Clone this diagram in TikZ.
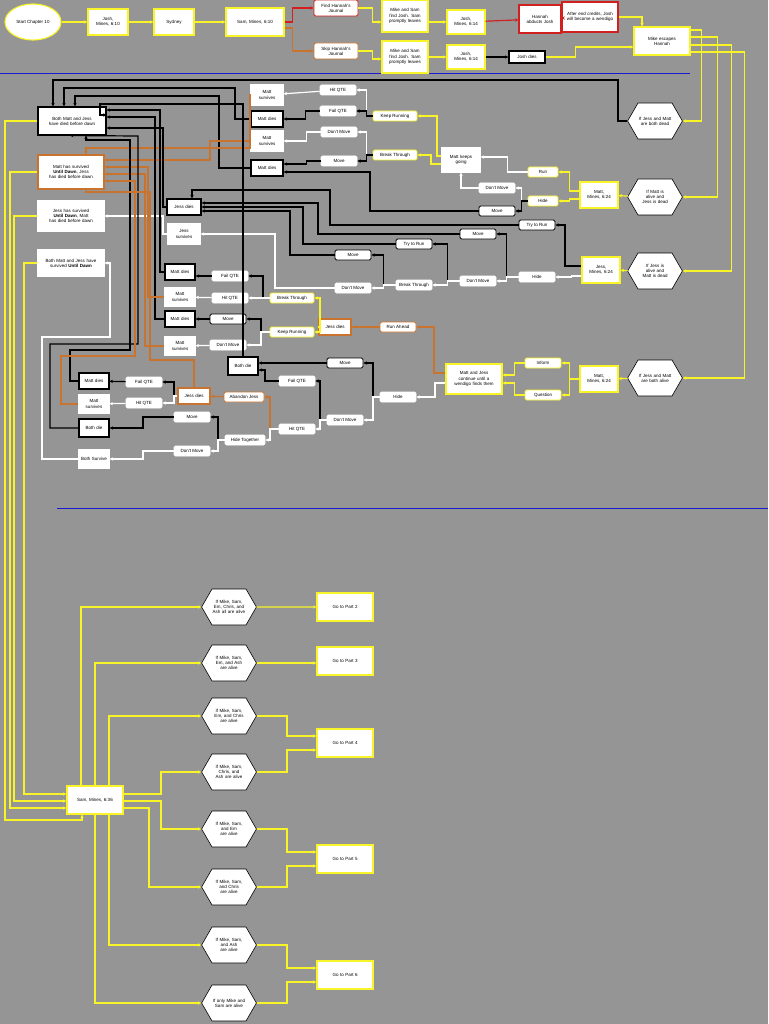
\documentclass[tikz,border=0pt]{standalone}
\usepackage{fontspec}
\setmainfont{Liberation Sans}
\usetikzlibrary{shapes.geometric,shapes.symbols,arrows.meta}
\definecolor{bg}{HTML}{959595}
\definecolor{yel}{HTML}{F8F428}
\definecolor{org}{HTML}{C8742E}
\definecolor{rd}{HTML}{D02020}
\definecolor{bl}{HTML}{1A1AD0}
\hyphenpenalty=10000
\exhyphenpenalty=10000
\begin{document}
\begin{tikzpicture}[x=1pt,y=-1pt,
 every node/.style={font=\fontsize{4.5}{5.2}\selectfont, align=center, inner sep=1pt},
 bx/.style={draw=#1, fill=white, line width=1.1pt, minimum width=40, minimum height=26, text width=34},
 bx/.default=black,
 lb/.style={draw=#1, fill=white, line width=0.8pt, rounded corners=1.5pt, minimum width=36, minimum height=10},
 lb/.default=white,
 hx/.style={signal, signal to=east and west, signal pointer angle=120, draw=black, fill=white, line width=0.6pt, minimum width=50, minimum height=36, text width=34, inner sep=0pt},
 c/.style={line width=1.2pt, draw=#1, -{Stealth[length=3.4pt,width=3.4pt]}},
 c/.default=black]
\fill[bg] (0,0) rectangle (768,1024);
\useasboundingbox (0,0) rectangle (768,1024);
\draw[bl, line width=1pt] (0,74) -- (690,74);
\draw[bl, line width=1pt] (57,508) -- (768,508);
% ---- top row
\node[ellipse, draw=yel, fill=white, line width=1.1pt, minimum width=56, minimum height=36] (start) at (33,22) {Start Chapter 10};
\node[bx=yel] (j610) at (108,22) {Josh, Mines, 6:10};
\node[bx=yel] (syd) at (174,22) {Sydney};
\node[bx=yel, minimum width=58, text width=50, minimum height=28] (s610) at (255,22) {Sam, Mines, 6:10};
\node[lb=rd, minimum width=44, minimum height=16, text width=40] (find) at (336,8) {Find Hannah's Journal};
\node[lb=org, minimum width=44, minimum height=16, text width=40] (skip) at (336,51) {Skip Hannah's Journal};
\node[bx=yel, minimum width=46, text width=42, minimum height=32] (ms1) at (405,16) {Mike and Sam find Josh. Sam promptly leaves};
\node[bx=yel, minimum width=46, text width=42, minimum height=32] (ms2) at (405,57) {Mike and Sam find Josh. Sam promptly leaves};
\node[bx=yel, minimum width=38, text width=34, minimum height=24] (j614a) at (466,22) {Josh, Mines, 6:14};
\node[bx=yel, minimum width=38, text width=34, minimum height=24] (j614b) at (466,57) {Josh, Mines, 6:14};
\node[bx=rd, minimum width=42, text width=36, minimum height=28] (hab) at (540,19) {Hannah abducts Josh};
\node[bx=rd, minimum width=56, text width=50, minimum height=30] (after) at (590,17) {After end credits, Josh will become a wendigo};
\node[bx, minimum width=34, minimum height=12] (jdies) at (527,57) {Josh dies};
\node[bx=yel, minimum width=56, text width=40, minimum height=28] (mike) at (662,41) {Mike escapes Hannah};
\draw[c=yel] (start) -- (j610);
\draw[c=yel] (j610) -- (syd);
\draw[c=yel] (syd) -- (s610);
\draw[c=rd] (s610.east) -- ++(8,0) |- (find.west);
\draw[c=org] ([yshift=-6]s610.east) -- ++(8,0) |- (skip.west);
\draw[c=yel] (find.east) -- ++(14,0) |- ([yshift=-6]ms1.west);
\draw[c=yel] (skip.east) -- ++(14,0) |- ([yshift=-2]ms2.west);
\draw[c=yel] (ms1.east|-j614a) -- (j614a);
\draw[c=yel] (ms2) -- (j614b);
\draw[c=rd] (j614a) -- (hab);
\draw[c=rd] (hab) -- (after);
\draw[c=black] (j614b) -- (jdies);
\draw[c=yel] (after.east) -| ([xshift=-20]mike.north);
\draw[c=yel] (jdies.east) -- ++(30,0) |- ([yshift=-6]mike.west);
% ---- hexagons right
\node[hx] (hA) at (655,121) {If Jess and Matt are both dead};
\node[hx] (hB) at (655,197) {If Matt is alive and Jess is dead};
\node[hx] (hC) at (655,271) {If Jess is alive and Matt is dead};
\node[hx] (hD) at (655,378) {If Jess and Matt are both alive};
\draw[c=yel] ([yshift=11]mike.east) -- ++(11,0) |- (hA.east);
\draw[c=yel] ([yshift=4]mike.east) -- ++(27,0) |- (hB.east);
\draw[c=yel] ([yshift=-4]mike.east) -- ++(41,0) |- (hC.east);
\draw[c=yel] ([yshift=-11]mike.east) -- ++(54,0) |- (hD.east);
% ---- outcomes left
\node[bx, minimum width=68, text width=64, minimum height=28] (oDD) at (72,121) {Both Matt and Jess have died before dawn};
\node[bx=org, minimum width=66, text width=62, minimum height=34] (oMS) at (71,172) {Matt has survived \textbf{Until Dawn}, Jess has died before dawn};
\node[bx=white, minimum width=66, text width=62, minimum height=30] (oJS) at (71,216) {Jess has survived \textbf{Until Dawn}, Matt has died before dawn};
\node[bx=white, minimum width=66, text width=62, minimum height=26] (oBS) at (71,263) {Both Matt and Jess have survived \textbf{Until Dawn}};
% ---- branch A
\node[bx=yel, minimum width=38, text width=34, minimum height=26] (mA) at (599,195) {Matt, Mines, 6:24};
\node[lb=yel, minimum width=30] (runA) at (543,172) {Run};
\node[lb=yel, minimum width=30] (hideA) at (543,201) {Hide};
\node[bx=white, minimum width=38, text width=30, minimum height=24] (mkg) at (461,160) {Matt keeps going};
\node[lb] (dmA) at (497,188) {Don't Move};
\node[lb=black] (mvA) at (497,211) {Move};
\node[lb=yel, minimum width=44] (krA) at (395,116) {Keep Running};
\node[lb=yel, minimum width=44] (btA) at (395,155) {Break Through};
\node[lb] (hqA) at (338,90) {Hit QTE};
\node[lb] (fqA) at (338,111) {Fail QTE};
\node[lb] (dmA2) at (339,132) {Don't Move};
\node[lb] (mvA2) at (339,161) {Move};
\node[bx=white, minimum width=32, text width=26, minimum height=20] (ms1A) at (267,95) {Matt survives};
\node[bx, minimum width=32, text width=30, minimum height=16] (md1A) at (267,119) {Matt dies};
\node[bx=white, minimum width=32, text width=26, minimum height=20] (ms2A) at (267,141) {Matt survives};
\node[bx, minimum width=32, text width=30, minimum height=16] (md2A) at (267,168) {Matt dies};
\draw[c=yel] (hB) -- (mA);
\draw[c=yel] ([yshift=4]mA.west) -- ++(-10,0) |- (runA.east);
\draw[c=yel] ([yshift=-4]mA.west) -- ++(-10,0) |- (hideA.east);
\draw[c=white] (runA.west) -- ++(-20,0) |- ([yshift=3]mkg.east);
\draw[c=white] (hideA.west) -- ++(-6,0) |- (dmA.east);
\draw[c] (hideA.west) -- ++(-6,0) |- (mvA.east);
\draw[c=white] (dmA.west) -| (mkg.south);
\draw[c=yel] ([yshift=4]mkg.west) -| (437,116) -- (krA.east);
\draw[c=yel] ([yshift=-4]mkg.west) -- (431,164) |- (btA.east);
\draw[c=white] (krA.west) -- ++(-6,0) |- (hqA.east);
\draw[c] (krA.west) -- ++(-6,0) |- (fqA.east);
\draw[c=white] (btA.west) -- ++(-6,0) |- (dmA2.east);
\draw[c] (btA.west) -- ++(-6,0) |- (mvA2.east);
\draw[c=white] (hqA) -- (ms1A);
\draw[c] (fqA.west) -- ++(-14,0) |- (md1A.east);
\draw[c=white] (dmA2.west) -- ++(-14,0) |- (ms2A.east);
\draw[c] (mvA2.west) -- ++(-14,0) |- ([yshift=4]md2A.east);
\draw[c] (mvA.west) -- (370,211) |- ([yshift=-4]md2A.east);
\draw[c] (hA.west) -- (618,121) -- (618,80) -- (53,80) -- ([xshift=-19]oDD.north);
\draw[c] (md1A.west) -- (235,119) -- (235,88) -- (64,88) -- ([xshift=-8]oDD.north);
\draw[c] (md2A.west) -- (219,168) -- (219,96) -- (75,96) -- ([xshift=3]oDD.north);
\draw[c=org] (ms1A.west) -- (250,95) -- (250,148) -- (86,148) -- ([xshift=15]oMS.north);
\draw[c=org] (ms2A.west) -- (210,141) -- (210,160) -- ([yshift=12]oMS.east);
% ---- branch C
\node[bx=yel, minimum width=38, text width=34, minimum height=26] (jC) at (601,270) {Jess, Mines, 6:24};
\node[lb=black] (trC) at (537,225) {Try to Run};
\node[lb] (hiC) at (537,277) {Hide};
\node[lb=black] (mvC) at (478,234) {Move};
\node[lb] (dmC) at (478,281) {Don't Move};
\node[lb=black] (trC2) at (414,244) {Try to Run};
\node[lb] (btC) at (414,285) {Break Through};
\node[lb=black] (mvC2) at (353,255) {Move};
\node[lb] (dmC2) at (353,288) {Don't Move};
\node[bx, minimum width=34, text width=30, minimum height=16] (jdC) at (184,207) {Jess dies};
\node[bx=white, minimum width=32, text width=26, minimum height=20] (jsC) at (184,234) {Jess survives};
\draw[c=yel] (hC) -- (jC);
\draw[c] ([yshift=4]jC.west) -- (565,266) |- (trC.east);
\draw[c=white] ([yshift=-6]jC.west) -- ++(-10,0) |- (hiC.east);
\draw[c] (hiC.west) -- ++(-12,0) |- (mvC.east);
\draw[c=white] (hiC.west) -- ++(-12,0) |- (dmC.east);
\draw[c] (dmC.west) -- ++(-12,0) |- (trC2.east);
\draw[c=white] (dmC.west) -- ++(-12,0) |- (btC.east);
\draw[c] (btC.west) -- ++(-12,0) |- (mvC2.east);
\draw[c=white] (btC.west) -- ++(-12,0) |- (dmC2.east);
\draw[c] (trC.west) -- (330,225) -- (330,190) -- (192,190) -- ([xshift=8]jdC.north);
\draw[c] (mvC.west) -- (318,234) |- ([yshift=4]jdC.east);
\draw[c] (trC2.west) -- (303,244) |- (jdC.east);
\draw[c] (mvC2.west) -- (290,255) |- ([yshift=-4]jdC.east);
\draw[c=white] (dmC2.west) -- (275,288) |- (jsC.east);
\draw[c=white] (jsC.west) -- (163,234) |- (oJS.east);
\draw[c] (jdC.west) -- (163,207) |- ([yshift=-7]oDD.east);
% ---- branch D
\node[bx=yel, minimum width=38, text width=34, minimum height=26] (mD) at (599,379) {Matt, Mines, 6:24};
\node[lb=yel] (inf) at (543,363) {Inform};
\node[lb=yel] (que) at (543,395) {Question};
\node[bx=yel, minimum width=56, text width=50, minimum height=30] (cont) at (474,379) {Matt and Jess continue until a wendigo finds them};
\node[lb=org] (ra) at (398,327) {Run Ahead};
\node[bx=org, minimum width=32, text width=30, minimum height=16] (jdD) at (335,327) {Jess dies};
\node[lb] (hiD) at (398,397) {Hide};
\node[lb=yel, minimum width=44] (btD) at (292,298) {Break Through};
\node[lb=yel, minimum width=44] (krD) at (292,332) {Keep Running};
\node[lb] (fqD) at (230,276) {Fail QTE};
\node[lb] (hqD) at (230,298) {Hit QTE};
\node[lb=black] (mvD) at (228,319) {Move};
\node[lb] (dmD) at (228,345) {Don't Move};
\node[bx, minimum width=30, text width=28, minimum height=16] (md1D) at (180,272) {Matt dies};
\node[bx=white, minimum width=30, text width=26, minimum height=18] (ms1D) at (180,297) {Matt survives};
\node[bx, minimum width=30, text width=28, minimum height=16] (md2D) at (180,319) {Matt dies};
\node[bx=white, minimum width=30, text width=26, minimum height=18] (ms2D) at (180,346) {Matt survives};
\draw[c=yel] (hD) -- (mD);
\draw[c=yel] (mD.west) -- ++(-10,0) |- (inf.east);
\draw[c=yel] (mD.west) -- ++(-10,0) |- (que.east);
\draw[c=yel] (inf.west) -- ++(-10,0) |- ([yshift=4]cont.east);
\draw[c=yel] (que.west) -- ++(-10,0) |- ([yshift=-4]cont.east);
\draw[c=org] ([yshift=6]cont.west) -- (434,373) |- (ra.east);
\draw[c=white] ([yshift=-4]cont.west) -- (435,383) |- (hiD.east);
\draw[c=org] (ra) -- (jdD);
\draw[c=yel] (jdD.west) -- (320,327) |- (btD.east);
\draw[c=yel] (jdD.west) -- (320,327) |- (krD.east);
\draw[c] (btD.west) -- (263,298) |- (fqD.east);
\draw[c=white] (btD.west) -- (263,298) |- (hqD.east);
\draw[c] (krD.west) -- (261,332) |- (mvD.east);
\draw[c=white] (krD.west) -- (261,332) |- (dmD.east);
\draw[c] (fqD) -- (md1D.east|-fqD);
\draw[c=white] (hqD) -- (ms1D);
\draw[c] (mvD) -- (md2D);
\draw[c=white] (dmD) -- (ms2D);
\draw[c] (md1D.west) -- (160,272) |- ([yshift=11]oDD.east);
\draw[c] (md2D.west) -- (155,319) |- ([yshift=4]oDD.east);
\draw[c=org] (ms1D.west) -- (148,297) |- ([yshift=5]oMS.east);
\draw[c=org] (ms2D.west) -- (145,346) |- ([yshift=-2]oMS.east);
% hide branch
\node[lb=black] (mvD2) at (345,363) {Move};
\node[lb] (dmD2) at (345,420) {Don't Move};
\node[bx, minimum width=30, text width=28, minimum height=18] (bd1) at (243,366) {Both die};
\node[lb] (fqD2) at (297,381) {Fail QTE};
\node[lb] (hqD2) at (297,429) {Hit QTE};
\node[lb=org, minimum width=40] (aj) at (244,397) {Abandon Jess};
\node[lb, minimum width=40] (ht) at (245,440) {Hide Together};
\node[bx=org, minimum width=32, text width=30, minimum height=16] (jdD2) at (194,396) {Jess dies};
\node[lb] (fqD3) at (144,382) {Fail QTE};
\node[lb] (hqD3) at (144,403) {Hit QTE};
\node[bx, minimum width=30, text width=28, minimum height=16] (md3) at (94,381) {Matt dies};
\node[bx=white, minimum width=30, text width=26, minimum height=18] (ms3) at (94,404) {Matt survives};
\node[lb=white] (mvD3) at (192,417) {Move};
\node[lb] (dmD3) at (192,451) {Don't Move};
\node[bx, minimum width=30, text width=28, minimum height=18] (bd2) at (94,428) {Both die};
\node[bx=white, minimum width=30, text width=26, minimum height=18] (bsv) at (94,459) {Both Survive};
\draw[c] (hiD.west) -- (373,397) |- (mvD2.east);
\draw[c=white] (hiD.west) -- (373,397) |- (dmD2.east);
\draw[c] (mvD2.west) -- (270,363) -- ([yshift=3]bd1.east);
\draw[c] (dmD2.west) -- (320,420) |- (fqD2.east);
\draw[c=white] (dmD2.west) -- (320,420) |- (hqD2.east);
\draw[c] (fqD2.west) -- (265,381) |- ([yshift=-4]bd1.east);
\draw[c=org] (hqD2.west) -- (270,429) |- (aj.east);
\draw[c=white] (hqD2.west) -- (270,429) |- (ht.east);
\draw[c=org] (aj) -- (jdD2);
\draw[c] (jdD2.west) -- (174,396) |- (fqD3.east);
\draw[c=white] (jdD2.west) -- (174,396) |- (hqD3.east);
\draw[c] (fqD3) -- (md3);
\draw[c=white] (hqD3) -- (ms3);
\draw[c] (ht.west) -- (218,440) |- (mvD3.east);
\draw[c=white] (ht.west) -- (218,440) |- (dmD3.east);
\draw[c] (mvD3.west) -- (143,417) |- (bd2.east);
\draw[c=white] (dmD3.west) -- (143,451) |- (bsv.east);
\draw[c] (md3.west) -- (70,381) -- (70,350) -- (130,350) -- (130,140) -- (86,140) -- ([xshift=14]oDD.south);
\draw[c] (bd2.west) -- (50,428) -- (50,344) -- (138,344) -- (138,136) -- ([xshift=-2]oDD.south);
\draw[c] (bd1.north) -- (243,104) -- (100,104) -- (100,115) -- ([yshift=6]oDD.east);
\draw[c=org] (ms3.west) -- (61,404) -- (61,356) -- (135,356) |- ([yshift=-9]oMS.east);
\draw[c=org] (jdD2.north) -- (194,360) -- (150,360) -- (150,192) -- (86,192) -- ([xshift=15]oMS.south);
\draw[c=white] (bsv.west) -- (42,459) -- (42,337) -- (110,337) |- (oBS.east);
% ---- bottom
\node[bx=yel, minimum width=56, text width=52, minimum height=28] (s636) at (95,800) {Sam, Mines, 6:36};
\draw[c=yel] (oDD.west) -- (5,121) -- (5,820) -- (82,820) -- ([xshift=-13]s636.south);
\draw[c=yel] (oMS.west) -- (10,172) |- ([yshift=-8]s636.west);
\draw[c=yel] (oJS.west) -- (14,216) |- ([yshift=-1]s636.west);
\draw[c=yel] (oBS.west) -- (24,263) |- ([yshift=6]s636.west);
\node[hx] (h1) at (229,607) {If Mike, Sam, Em, Chris, and Ash all are alive};
\node[hx] (h2) at (229,663) {If Mike, Sam, Em, and Ash are alive};
\node[hx] (h3) at (229,716) {If Mike, Sam, Em, and Chris are alive};
\node[hx] (h4) at (229,772) {If Mike, Sam, Chris, and Ash are alive};
\node[hx] (h5) at (229,829) {If Mike, Sam, and Em are alive};
\node[hx] (h6) at (229,887) {If Mike, Sam, and Chris are alive};
\node[hx] (h7) at (229,945) {If Mike, Sam, and Ash are alive};
\node[hx] (h8) at (229,1003) {If only Mike and Sam are alive};
\node[bx=yel, minimum width=56, minimum height=28] (p2) at (345,607) {Go to Part 2};
\node[bx=yel, minimum width=56, minimum height=28] (p3) at (345,661) {Go to Part 3};
\node[bx=yel, minimum width=56, minimum height=28] (p4) at (345,743) {Go to Part 4};
\node[bx=yel, minimum width=56, minimum height=28] (p5) at (345,859) {Go to Part 5};
\node[bx=yel, minimum width=56, minimum height=28] (p6) at (345,975) {Go to Part 6};
\draw[c=yel] ([xshift=-14]s636.north) |- (h1.west);
\draw[c=yel] (s636.north) |- (h2.west);
\draw[c=yel] ([xshift=14]s636.north) |- (h3.west);
\draw[c=yel] ([yshift=6]s636.east) -- (161,794) |- (h4.west);
\draw[c=yel] ([yshift=-1]s636.east) -- (161,801) |- (h5.west);
\draw[c=yel] ([yshift=-8]s636.east) -- (149,808) |- (h6.west);
\draw[c=yel] ([xshift=14]s636.south) |- (h7.west);
\draw[c=yel] (s636.south) |- (h8.west);
\draw[c=yel] (h1) -- (p2);
\draw[c=yel] (h2.east) -- (p3.west|-h2);
\draw[c=yel] (h3.east) -- (287,716) |- ([yshift=7]p4.west);
\draw[c=yel] (h4.east) -- (287,772) |- ([yshift=-7]p4.west);
\draw[c=yel] (h5.east) -- (287,829) |- ([yshift=7]p5.west);
\draw[c=yel] (h6.east) -- (287,887) |- ([yshift=-7]p5.west);
\draw[c=yel] (h7.east) -- (287,945) |- ([yshift=7]p6.west);
\draw[c=yel] (h8.east) -- (287,1003) |- ([yshift=-7]p6.west);
\end{tikzpicture}
\end{document}
